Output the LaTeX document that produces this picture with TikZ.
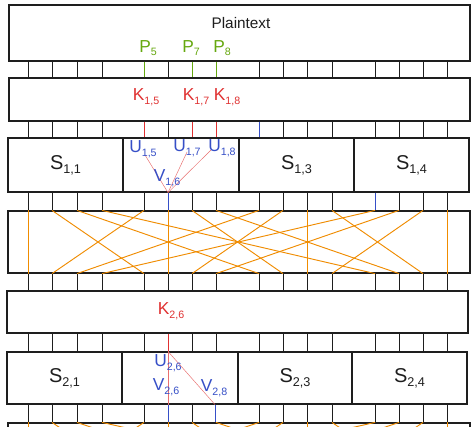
\documentclass[tikz,border=0pt]{standalone}
\usepackage{fontspec}
\setmainfont{Liberation Sans}
\usetikzlibrary{fit}
\definecolor{ink}{HTML}{1E1E1E}
\definecolor{pgreen}{HTML}{66A80F}
\definecolor{kred}{HTML}{E03131}
\definecolor{uvblue}{HTML}{364FC7}
\definecolor{permc}{HTML}{F08C00}
\newcommand\mylbl[2]{{\fontsize{13}{13}\selectfont #1}\raisebox{-2.6pt}{\fontsize{8}{8}\selectfont #2}}
\newcommand\myslbl[2]{{\fontsize{15}{15}\selectfont #1}\raisebox{-3pt}{\fontsize{9.5}{9.5}\selectfont #2}}
\tikzset{
  box/.style={draw=ink, line width=0.9pt, inner sep=0pt, fill=white},
  wire/.style={draw=ink, line width=0.75pt},
  gwire/.style={draw=pgreen, line width=0.6pt},
  rwire/.style={draw=kred, line width=0.6pt},
  bwire/.style={draw=uvblue, line width=0.6pt},
  thinred/.style={draw=kred!70, line width=0.35pt},
  pwire/.style={draw=permc, line width=0.7pt},
  lab/.style={inner sep=0pt},
  slab/.style={inner sep=0pt, text=ink},
}
\begin{document}
\begin{tikzpicture}[x=0.75pt,y=-0.75pt]
\useasboundingbox (0,0) rectangle (474,427);
\clip (0,0) rectangle (474,427);
\fill[white] (0,0) rectangle (474,427);

% boxes
\node[box, fit={(9,5)(470,61)}] (pt) {};
\node[box, fit={(9,78)(470,121)}] (k1) {};
\node[box, fit={(8,138)(123,192)}] (s11) {};
\node[box, fit={(123,138)(239,192)}] (s12) {};
\node[box, fit={(239,138)(354,192)}] (s13) {};
\node[box, fit={(354,138)(469,192)}] (s14) {};
\node[box, fit={(8,211)(470,273)}] (pm1) {};
\node[box, fit={(7,291)(468,333)}] (k2) {};
\node[box, fit={(7,352)(122,404)}] (s21) {};
\node[box, fit={(122,352)(238,404)}] (s22) {};
\node[box, fit={(238,352)(352,404)}] (s23) {};
\node[box, fit={(352,352)(467,404)}] (s24) {};
\node[box, fit={(8,423)(470,484)}] (pm2) {};

% gap 1: plaintext -> K1
\foreach \x in {28,52,77,102,168,259,283,307,332,375,399,423,447}
  \draw[wire] (\x,0 |- pt.south) -- (\x,0 |- k1.north);
\foreach \x in {144,192,216}
  \draw[gwire] (\x,0 |- pt.south) -- (\x,0 |- k1.north);

% gap 2: K1 -> S1
\foreach \x in {28,52,77,102,168,283,307,332,375,399,423,447}
  \draw[wire] (\x,0 |- k1.south) -- (\x,0 |- s11.north);
\foreach \x in {144,192,216}
  \draw[rwire] (\x,0 |- k1.south) -- (\x,0 |- s12.north);
\draw[bwire, line width=0.4pt] (259,0 |- k1.south) -- (259,0 |- s13.north);

% inside S1,2
\coordinate (v16) at (168,0 |- s12.south);
\draw[thinred] (145,155) -- (v16);
\draw[thinred] (187,152) -- (v16);
\draw[thinred] (211,150) -- (v16);

% gap 3: S1 -> permutation
\foreach \x in {28,52,77,102,144,192,216,259,283,307,332,399,423,447}
  \draw[wire] (\x,0 |- s11.south) -- (\x,0 |- pm1.north);
\draw[bwire] (v16) -- (168,0 |- pm1.north);
\draw[bwire, line width=0.4pt] (375,0 |- s14.south) -- (375,0 |- pm1.north);

% permutation 1
\foreach \a/\b in {28/28, 52/144, 77/259, 102/375, 144/52, 168/168, 192/283, 216/399, 259/77, 283/192, 307/307, 332/423, 375/102, 399/216, 423/332, 447/447}
  \draw[pwire] (\a,0 |- pm1.north) -- (\b,0 |- pm1.south);

% gap 4: permutation -> K2
\foreach \x in {28,52,77,102,144,168,192,216,259,283,307,332,375,399,423,447}
  \draw[wire] (\x,0 |- pm1.south) -- (\x,0 |- k2.north);

% gap 5: K2 -> S2
\foreach \x in {28,52,77,102,144,192,216,259,283,307,332,375,399,423,447}
  \draw[wire] (\x,0 |- k2.south) -- (\x,0 |- s21.north);
\coordinate (u26) at (168,0 |- s22.north);
\draw[rwire] (168,0 |- k2.south) -- (u26);

% inside S2,2
\coordinate (v26) at (168,0 |- s22.south);
\coordinate (v28) at (215,0 |- s22.south);
\draw[thinred] (u26) -- (v26);
\draw[thinred] (u26) -- (v28);

% gap 6: S2 -> permutation 2
\foreach \x in {28,52,77,102,144,192,259,283,307,332,375,399,423,447}
  \draw[wire] (\x,0 |- s21.south) -- (\x,0 |- pm2.north);
\draw[bwire] (v26) -- (168,0 |- pm2.north);
\draw[bwire] (v28) -- (215,0 |- pm2.north);

% permutation 2
\foreach \a/\b in {28/28, 52/144, 77/259, 102/375, 144/52, 168/168, 192/283, 216/399, 259/77, 283/192, 307/307, 332/423, 375/102, 399/216, 423/332, 447/447}
  \draw[pwire] (\a,0 |- pm2.north) -- (\b,0 |- pm2.south);

% labels
\node[lab, text=ink, font=\fontsize{11.5}{11.5}\selectfont] (ptl) at (241,23) {Plaintext};
\node[lab, text=pgreen] (p5) at (148,48) {\mylbl{P}{5}};
\node[lab, text=pgreen] (p7) at (191,48) {\mylbl{P}{7}};
\node[lab, text=pgreen] (p8) at (222,48) {\mylbl{P}{8}};
\node[lab, text=kred] (k15) at (146,97) {\mylbl{K}{1,5}};
\node[lab, text=kred] (k17) at (196,97) {\mylbl{K}{1,7}};
\node[lab, text=kred] (k18) at (227,97) {\mylbl{K}{1,8}};
\node[lab, text=uvblue] (u15) at (143,149) {\mylbl{U}{1,5}};
\node[lab, text=uvblue] (u17) at (187,148) {\mylbl{U}{1,7}};
\node[lab, text=uvblue] (u18) at (222,148) {\mylbl{U}{1,8}};
\node[lab, text=uvblue] (v16l) at (167,178) {\mylbl{V}{1,6}};
\node[slab] at (s11.center) {\myslbl{S}{1,1}};
\node[slab] at (s13.center) {\myslbl{S}{1,3}};
\node[slab] at (s14.center) {\myslbl{S}{1,4}};
\node[lab, text=kred] (k26) at (171,311) {\mylbl{K}{2,6}};
\node[lab, text=uvblue] (u26l) at (168,363) {\mylbl{U}{2,6}};
\node[lab, text=uvblue] (v26l) at (166,387) {\mylbl{V}{2,6}};
\node[lab, text=uvblue] (v28l) at (214,388) {\mylbl{V}{2,8}};
\node[slab] at (s21.center) {\myslbl{S}{2,1}};
\node[slab] at (s23.center) {\myslbl{S}{2,3}};
\node[slab] at (s24.center) {\myslbl{S}{2,4}};
\end{tikzpicture}
\end{document}
